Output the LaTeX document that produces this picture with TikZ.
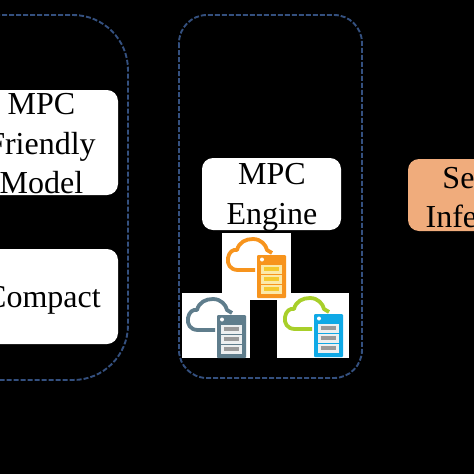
\documentclass[tikz,border=0pt]{standalone}
\usepackage{fontspec}
\setmainfont{Liberation Serif}
\definecolor{dashblue}{HTML}{34507F}
\definecolor{peach}{HTML}{F0AC7C}
\definecolor{iconorange}{HTML}{F7941D}
\definecolor{slotyellow}{HTML}{FBE9A8}
\definecolor{baryellow}{HTML}{F5C92E}
\definecolor{iconslate}{HTML}{5F7D8C}
\definecolor{iconlime}{HTML}{A8CF2A}
\definecolor{iconblue}{HTML}{0FA9E6}
\definecolor{slotpale}{HTML}{EDEFF0}
\definecolor{bargray}{HTML}{9A9A9A}
\tikzset{
  container/.style={draw=dashblue,line width=1.9pt,dash pattern=on 5pt off 2pt},
  labelbox/.style={fill=white,rounded corners=11pt},
  labeltext/.style={font=\fontsize{32}{39.5}\selectfont,align=center,text=black,inner sep=0pt},
  photo/.style={fill=white},
}
\newcommand{\cloudserver}[6]{%
  \begin{scope}[shift={(#1,#2)}]
    \draw[#3,line width=3.8pt,line cap=butt,line join=round]
      (33,37) -- (16,37) .. controls (8,37) and (5,31) .. (6,25)
      .. controls (7,19) and (11,16) .. (15,17)
      .. controls (17,9) and (24,6) .. (31,6)
      .. controls (39,6) and (44,12) .. (45,17) -- (50,20);
    \fill[#4,rounded corners=1pt] (35,22) rectangle (64,65);
    \fill[white] (40,26.5) circle (2pt);
    \foreach \sy in {32,42,52}{
      \fill[#5] (39,\sy) rectangle (60,\sy+8.5);
      \fill[#6] (42,\sy+2.2) rectangle (57,\sy+6.3);
    }
  \end{scope}}
\begin{document}
\begin{tikzpicture}[x=1pt,y=-1pt]
  \path[use as bounding box] (0,0) rectangle (474,474);
  \fill[black] (0,0) rectangle (474,474);
  \clip (0,0) rectangle (474,474);
  % dashed containers
  \draw[container,rounded corners=55pt] (-120,15) rectangle (128,380);
  \draw[container,rounded corners=28pt] (179,15) rectangle (362,378);
  % left column
  \fill[labelbox] (-36,90) rectangle (118,195);
  \node[labeltext] (friendly) at (41.5,144) {MPC\\Friendly\\Model};
  \fill[labelbox] (-36,249) rectangle (118,344);
  \node[labeltext] (compact) at (43,300) {Compact};
  % engine
  \fill[labelbox] (202,158) rectangle (341,230);
  \node[labeltext] (engine) at (272,197.5) {MPC\\Engine};
  % secure inference
  \fill[peach,rounded corners=11pt] (408,159) rectangle (564,231);
  \node[labeltext] (secure) at (486,197.5) {Secure\\Inference};
  % server icons
  \fill[photo] (222,233) rectangle (291,300);
  \fill[photo] (182,293) rectangle (250,358);
  \fill[photo] (277,293) rectangle (349,358);
  \cloudserver{222}{233}{iconorange}{iconorange}{slotyellow}{baryellow}
  \cloudserver{182}{293}{iconslate}{iconslate}{slotpale}{bargray}
  \cloudserver{279}{292}{iconlime}{iconblue}{slotpale}{bargray}
\end{tikzpicture}
\end{document}
